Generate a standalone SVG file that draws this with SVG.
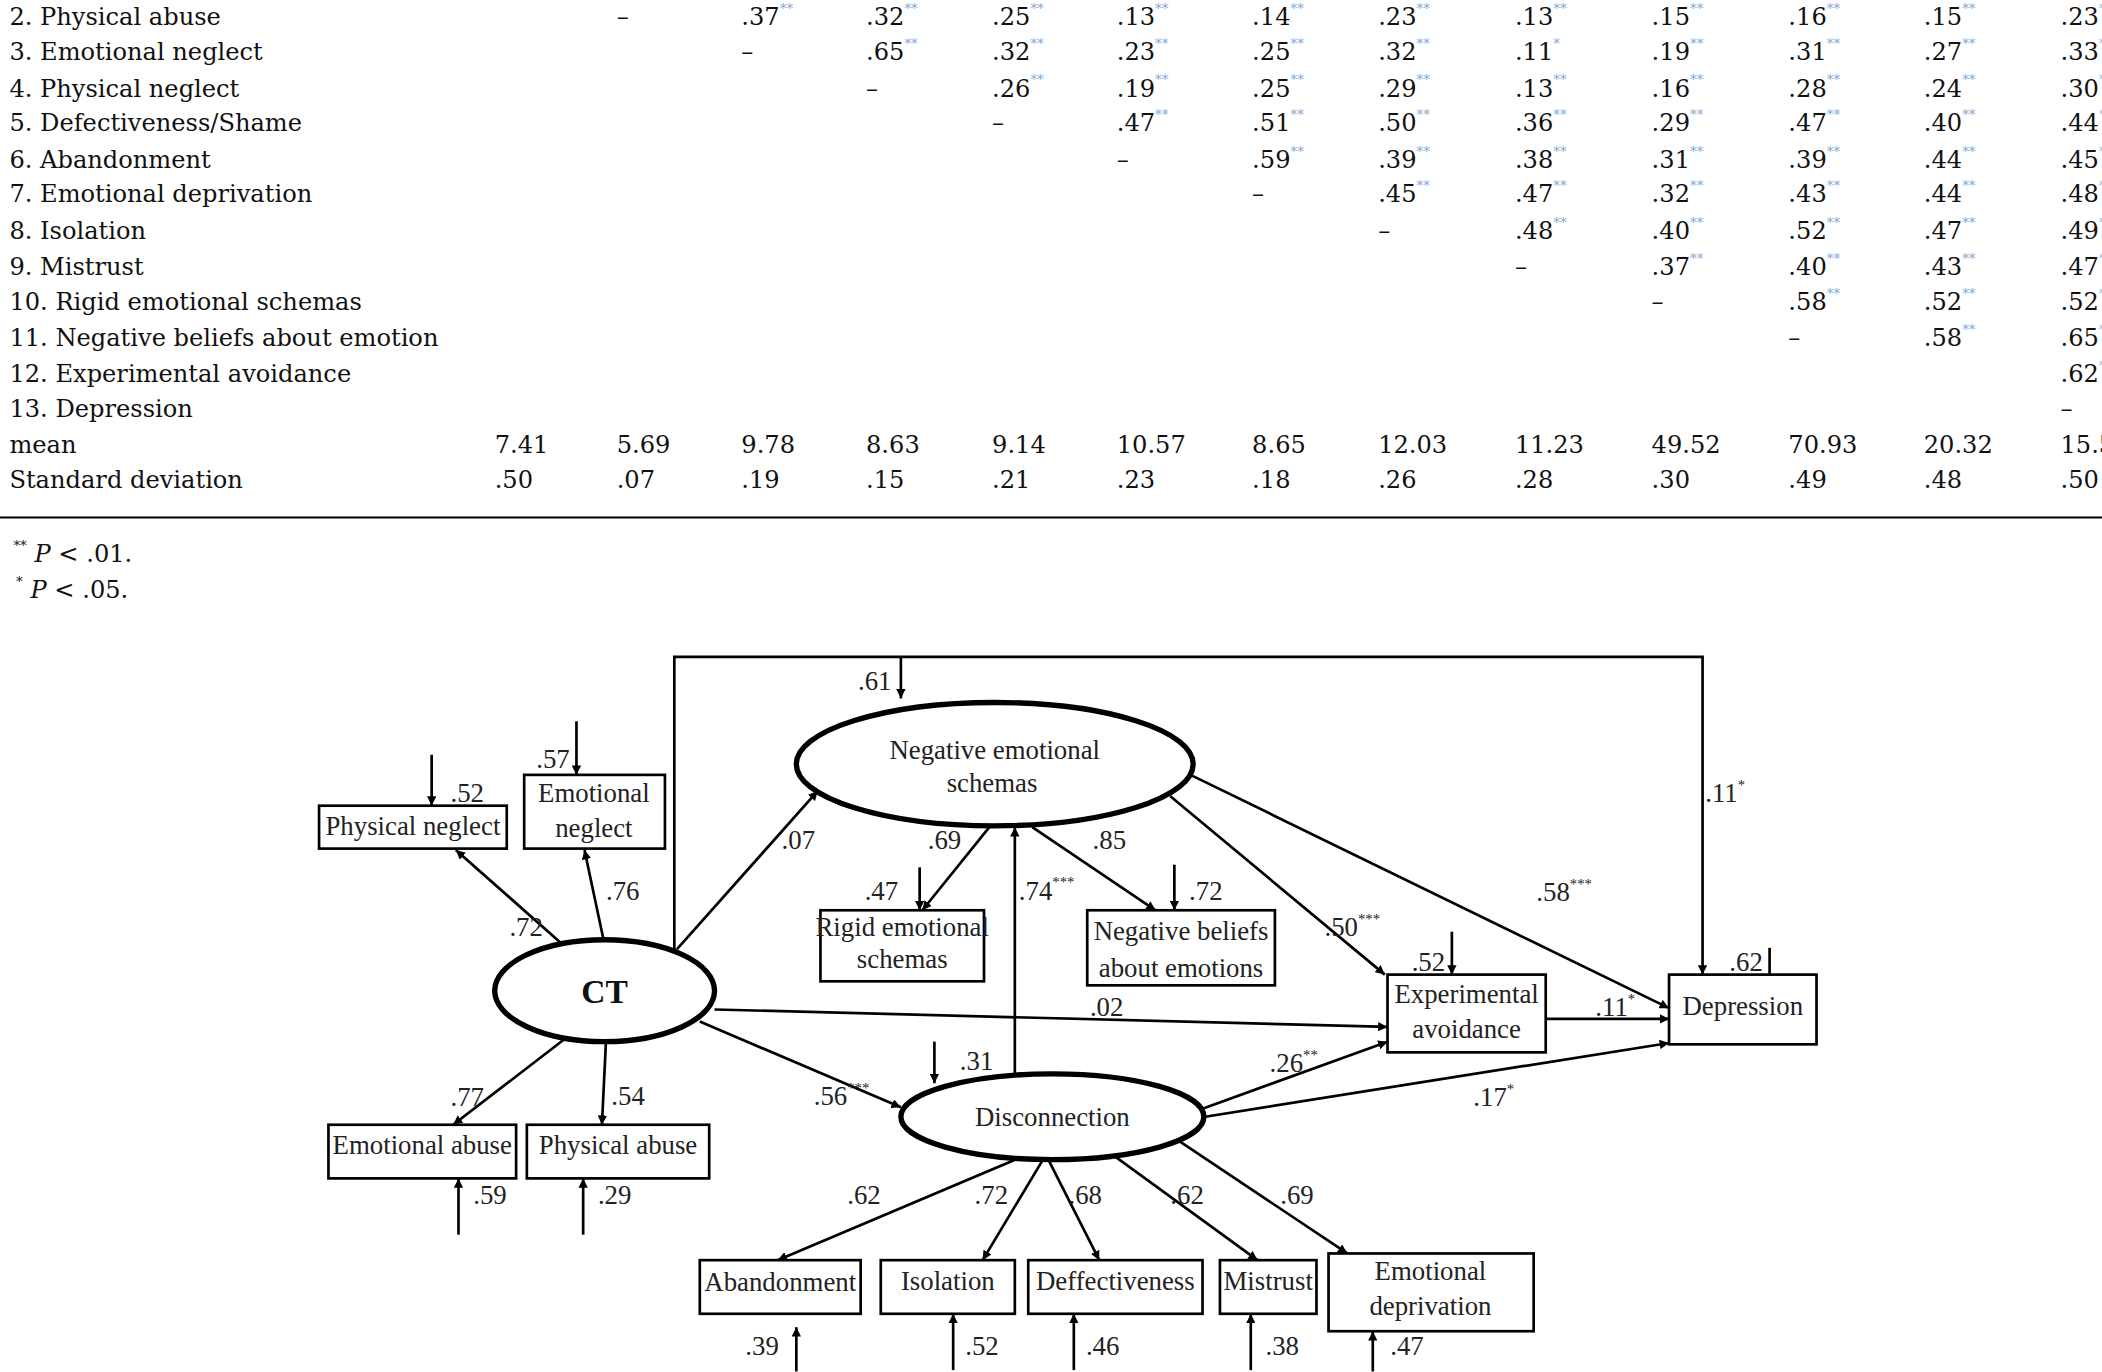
<svg xmlns="http://www.w3.org/2000/svg" width="2102" height="1372" viewBox="0 0 2102 1372">
<defs>
<marker id="ah" viewBox="0 0 10 10" refX="10" refY="5" markerWidth="7" markerHeight="7" markerUnits="userSpaceOnUse" orient="auto"><path d="M0,0 L10,5 L0,10 z" fill="#000"/></marker>
<style>
text{font-family:"Liberation Serif",serif;fill:#111}
.t{font-size:18px;font-family:"DejaVu Serif",serif}
.s{font-size:10px;fill:#7fa8d6}
.d{font-size:20px;fill:#222}
.ds{font-size:11px;fill:#222}
.n{fill:#fff;stroke:#000;stroke-width:2}
.e{fill:#fff;stroke:#000;stroke-width:4}
.c{fill:none;stroke:#000;stroke-width:2;marker-end:url(#ah)}
.m{text-anchor:middle}
</style>
</defs>
<rect width="2102" height="1372" fill="#fff"/>
<g transform="scale(1.3406)">
<g id="table">
<text x="7" y="19" class="t">2. Physical abuse</text>
<text x="7" y="45" class="t">3. Emotional neglect</text>
<text x="7" y="72" class="t">4. Physical neglect</text>
<text x="7" y="98" class="t">5. Defectiveness/Shame</text>
<text x="7" y="125" class="t">6. Abandonment</text>
<text x="7" y="151" class="t">7. Emotional deprivation</text>
<text x="7" y="178" class="t">8. Isolation</text>
<text x="7" y="205" class="t">9. Mistrust</text>
<text x="7" y="231" class="t">10. Rigid emotional schemas</text>
<text x="7" y="258" class="t">11. Negative beliefs about emotion</text>
<text x="7" y="285" class="t">12. Experimental avoidance</text>
<text x="7" y="311" class="t">13. Depression</text>
<text x="7" y="338" class="t">mean</text>
<text x="7" y="364" class="t">Standard deviation</text>
<text x="460" y="19" class="t">–</text>
<text x="553" y="19" class="t">.37<tspan class="s" dy="-9">**</tspan></text>
<text x="646" y="19" class="t">.32<tspan class="s" dy="-9">**</tspan></text>
<text x="740" y="19" class="t">.25<tspan class="s" dy="-9">**</tspan></text>
<text x="833" y="19" class="t">.13<tspan class="s" dy="-9">**</tspan></text>
<text x="934" y="19" class="t">.14<tspan class="s" dy="-9">**</tspan></text>
<text x="1028" y="19" class="t">.23<tspan class="s" dy="-9">**</tspan></text>
<text x="1130" y="19" class="t">.13<tspan class="s" dy="-9">**</tspan></text>
<text x="1232" y="19" class="t">.15<tspan class="s" dy="-9">**</tspan></text>
<text x="1334" y="19" class="t">.16<tspan class="s" dy="-9">**</tspan></text>
<text x="1435" y="19" class="t">.15<tspan class="s" dy="-9">**</tspan></text>
<text x="1537" y="19" class="t">.23<tspan class="s" dy="-9">**</tspan></text>
<text x="553" y="45" class="t">–</text>
<text x="646" y="45" class="t">.65<tspan class="s" dy="-9">**</tspan></text>
<text x="740" y="45" class="t">.32<tspan class="s" dy="-9">**</tspan></text>
<text x="833" y="45" class="t">.23<tspan class="s" dy="-9">**</tspan></text>
<text x="934" y="45" class="t">.25<tspan class="s" dy="-9">**</tspan></text>
<text x="1028" y="45" class="t">.32<tspan class="s" dy="-9">**</tspan></text>
<text x="1130" y="45" class="t">.11<tspan class="s" dy="-9">*</tspan></text>
<text x="1232" y="45" class="t">.19<tspan class="s" dy="-9">**</tspan></text>
<text x="1334" y="45" class="t">.31<tspan class="s" dy="-9">**</tspan></text>
<text x="1435" y="45" class="t">.27<tspan class="s" dy="-9">**</tspan></text>
<text x="1537" y="45" class="t">.33<tspan class="s" dy="-9">**</tspan></text>
<text x="646" y="72" class="t">–</text>
<text x="740" y="72" class="t">.26<tspan class="s" dy="-9">**</tspan></text>
<text x="833" y="72" class="t">.19<tspan class="s" dy="-9">**</tspan></text>
<text x="934" y="72" class="t">.25<tspan class="s" dy="-9">**</tspan></text>
<text x="1028" y="72" class="t">.29<tspan class="s" dy="-9">**</tspan></text>
<text x="1130" y="72" class="t">.13<tspan class="s" dy="-9">**</tspan></text>
<text x="1232" y="72" class="t">.16<tspan class="s" dy="-9">**</tspan></text>
<text x="1334" y="72" class="t">.28<tspan class="s" dy="-9">**</tspan></text>
<text x="1435" y="72" class="t">.24<tspan class="s" dy="-9">**</tspan></text>
<text x="1537" y="72" class="t">.30<tspan class="s" dy="-9">**</tspan></text>
<text x="740" y="98" class="t">–</text>
<text x="833" y="98" class="t">.47<tspan class="s" dy="-9">**</tspan></text>
<text x="934" y="98" class="t">.51<tspan class="s" dy="-9">**</tspan></text>
<text x="1028" y="98" class="t">.50<tspan class="s" dy="-9">**</tspan></text>
<text x="1130" y="98" class="t">.36<tspan class="s" dy="-9">**</tspan></text>
<text x="1232" y="98" class="t">.29<tspan class="s" dy="-9">**</tspan></text>
<text x="1334" y="98" class="t">.47<tspan class="s" dy="-9">**</tspan></text>
<text x="1435" y="98" class="t">.40<tspan class="s" dy="-9">**</tspan></text>
<text x="1537" y="98" class="t">.44<tspan class="s" dy="-9">**</tspan></text>
<text x="833" y="125" class="t">–</text>
<text x="934" y="125" class="t">.59<tspan class="s" dy="-9">**</tspan></text>
<text x="1028" y="125" class="t">.39<tspan class="s" dy="-9">**</tspan></text>
<text x="1130" y="125" class="t">.38<tspan class="s" dy="-9">**</tspan></text>
<text x="1232" y="125" class="t">.31<tspan class="s" dy="-9">**</tspan></text>
<text x="1334" y="125" class="t">.39<tspan class="s" dy="-9">**</tspan></text>
<text x="1435" y="125" class="t">.44<tspan class="s" dy="-9">**</tspan></text>
<text x="1537" y="125" class="t">.45<tspan class="s" dy="-9">**</tspan></text>
<text x="934" y="151" class="t">–</text>
<text x="1028" y="151" class="t">.45<tspan class="s" dy="-9">**</tspan></text>
<text x="1130" y="151" class="t">.47<tspan class="s" dy="-9">**</tspan></text>
<text x="1232" y="151" class="t">.32<tspan class="s" dy="-9">**</tspan></text>
<text x="1334" y="151" class="t">.43<tspan class="s" dy="-9">**</tspan></text>
<text x="1435" y="151" class="t">.44<tspan class="s" dy="-9">**</tspan></text>
<text x="1537" y="151" class="t">.48<tspan class="s" dy="-9">**</tspan></text>
<text x="1028" y="178" class="t">–</text>
<text x="1130" y="178" class="t">.48<tspan class="s" dy="-9">**</tspan></text>
<text x="1232" y="178" class="t">.40<tspan class="s" dy="-9">**</tspan></text>
<text x="1334" y="178" class="t">.52<tspan class="s" dy="-9">**</tspan></text>
<text x="1435" y="178" class="t">.47<tspan class="s" dy="-9">**</tspan></text>
<text x="1537" y="178" class="t">.49<tspan class="s" dy="-9">**</tspan></text>
<text x="1130" y="205" class="t">–</text>
<text x="1232" y="205" class="t">.37<tspan class="s" dy="-9">**</tspan></text>
<text x="1334" y="205" class="t">.40<tspan class="s" dy="-9">**</tspan></text>
<text x="1435" y="205" class="t">.43<tspan class="s" dy="-9">**</tspan></text>
<text x="1537" y="205" class="t">.47<tspan class="s" dy="-9">**</tspan></text>
<text x="1232" y="231" class="t">–</text>
<text x="1334" y="231" class="t">.58<tspan class="s" dy="-9">**</tspan></text>
<text x="1435" y="231" class="t">.52<tspan class="s" dy="-9">**</tspan></text>
<text x="1537" y="231" class="t">.52<tspan class="s" dy="-9">**</tspan></text>
<text x="1334" y="258" class="t">–</text>
<text x="1435" y="258" class="t">.58<tspan class="s" dy="-9">**</tspan></text>
<text x="1537" y="258" class="t">.65<tspan class="s" dy="-9">**</tspan></text>
<text x="1537" y="285" class="t">.62<tspan class="s" dy="-9">**</tspan></text>
<text x="1537" y="311" class="t">–</text>
<text y="338" class="t"><tspan x="369">7.41</tspan><tspan x="460">5.69</tspan><tspan x="553">9.78</tspan><tspan x="646">8.63</tspan><tspan x="740">9.14</tspan><tspan x="833">10.57</tspan><tspan x="934">8.65</tspan><tspan x="1028">12.03</tspan><tspan x="1130">11.23</tspan><tspan x="1232">49.52</tspan><tspan x="1334">70.93</tspan><tspan x="1435">20.32</tspan><tspan x="1537">15.5</tspan></text>
<text y="364" class="t"><tspan x="369">.50</tspan><tspan x="460">.07</tspan><tspan x="553">.19</tspan><tspan x="646">.15</tspan><tspan x="740">.21</tspan><tspan x="833">.23</tspan><tspan x="934">.18</tspan><tspan x="1028">.26</tspan><tspan x="1130">.28</tspan><tspan x="1232">.30</tspan><tspan x="1334">.49</tspan><tspan x="1435">.48</tspan><tspan x="1537">.50</tspan></text>
<line x1="0" y1="386" x2="1568" y2="386" stroke="#000" stroke-width="1.5"/>
<text x="10" y="419" class="t"><tspan font-size="10px" dy="-9">**</tspan><tspan dy="9" font-style="italic"> P</tspan> &lt; .01.</text>
<text x="12" y="446" class="t"><tspan font-size="10px" dy="-9">*</tspan><tspan dy="9" font-style="italic"> P</tspan> &lt; .05.</text>
</g>

<g id="connectors">
<polyline class="c" points="503,708 503,490 1270,490 1270,727"/>
<line class="c" x1="672" y1="490" x2="672" y2="521"/>
<line class="c" x1="418" y1="703" x2="340" y2="634"/>
<line class="c" x1="450" y1="700" x2="436" y2="634"/>
<line class="c" x1="420" y1="776" x2="338" y2="839"/>
<line class="c" x1="452" y1="777" x2="449" y2="839"/>
<line class="c" x1="505" y1="708" x2="610" y2="590"/>
<line class="c" x1="533" y1="753" x2="1035" y2="766"/>
<line class="c" x1="522" y1="762" x2="672" y2="826"/>
<line class="c" x1="738" y1="617" x2="688" y2="679"/>
<line class="c" x1="770" y1="617" x2="862" y2="679"/>
<line class="c" x1="757" y1="801" x2="757" y2="617"/>
<line class="c" x1="873" y1="594" x2="1033" y2="727"/>
<line class="c" x1="888" y1="578" x2="1245" y2="752"/>
<line class="c" x1="1153" y1="760" x2="1245" y2="760"/>
<line class="c" x1="897" y1="827" x2="1035" y2="777"/>
<line class="c" x1="899" y1="833" x2="1245" y2="778"/>
<line class="c" x1="762" y1="863" x2="580" y2="940"/>
<line class="c" x1="778" y1="865" x2="733" y2="940"/>
<line class="c" x1="782" y1="865" x2="820" y2="940"/>
<line class="c" x1="828" y1="860" x2="938" y2="940"/>
<line class="c" x1="866" y1="842" x2="1005" y2="935"/>
<line class="c" x1="322" y1="563" x2="322" y2="601"/>
<line class="c" x1="430" y1="538" x2="430" y2="578"/>
<line class="c" x1="686" y1="647" x2="686" y2="679"/>
<line class="c" x1="876" y1="645" x2="876" y2="679"/>
<line class="c" x1="1083" y1="695" x2="1083" y2="727"/>
<line class="c" x1="1320" y1="707" x2="1320" y2="735"/>
<line class="c" x1="697" y1="777" x2="697" y2="808"/>
<line class="c" x1="342" y1="921" x2="342" y2="879"/>
<line class="c" x1="435" y1="921" x2="435" y2="879"/>
<line class="c" x1="594" y1="1023" x2="594" y2="990"/>
<line class="c" x1="711" y1="1022" x2="711" y2="980"/>
<line class="c" x1="801" y1="1022" x2="801" y2="980"/>
<line class="c" x1="933" y1="1022" x2="933" y2="980"/>
<line class="c" x1="1024" y1="1023" x2="1024" y2="993"/>
<text class="d" x="1272" y="598">.11<tspan class="ds" dy="-9">*</tspan></text>
<text class="d" x="640" y="515">.61</text>
<text class="d" x="380" y="698">.72</text>
<text class="d" x="452" y="671">.76</text>
<text class="d" x="336" y="825">.77</text>
<text class="d" x="456" y="824">.54</text>
<text class="d" x="583" y="633">.07</text>
<text class="d" x="813" y="758">.02</text>
<text class="d" x="607" y="824">.56<tspan class="ds" dy="-9">***</tspan></text>
<text class="d" x="692" y="633">.69</text>
<text class="d" x="815" y="633">.85</text>
<text class="d" x="760" y="671">.74<tspan class="ds" dy="-9">***</tspan></text>
<text class="d" x="988" y="698">.50<tspan class="ds" dy="-9">***</tspan></text>
<text class="d" x="1146" y="672">.58<tspan class="ds" dy="-9">***</tspan></text>
<text class="d" x="1190" y="758">.11<tspan class="ds" dy="-9">*</tspan></text>
<text class="d" x="947" y="800">.26<tspan class="ds" dy="-9">**</tspan></text>
<text class="d" x="1099" y="825">.17<tspan class="ds" dy="-9">*</tspan></text>
<text class="d" x="632" y="898">.62</text>
<text class="d" x="727" y="898">.72</text>
<text class="d" x="797" y="898">.68</text>
<text class="d" x="873" y="898">.62</text>
<text class="d" x="955" y="898">.69</text>
<text class="d" x="336" y="598">.52</text>
<text class="d" x="400" y="573">.57</text>
<text class="d" x="645" y="671">.47</text>
<text class="d" x="887" y="671">.72</text>
<text class="d" x="1053" y="724">.52</text>
<text class="d" x="1290" y="724">.62</text>
<text class="d" x="716" y="798">.31</text>
<text class="d" x="353" y="898">.59</text>
<text class="d" x="446" y="898">.29</text>
<text class="d" x="556" y="1011">.39</text>
<text class="d" x="720" y="1011">.52</text>
<text class="d" x="810" y="1011">.46</text>
<text class="d" x="944" y="1011">.38</text>
<text class="d" x="1037" y="1011">.47</text>
</g>

<g id="ct"><ellipse class="e" cx="451" cy="739" rx="82" ry="38"/><text class="m" x="451" y="748" font-size="25px" font-weight="bold">CT</text></g>
<g id="nes"><ellipse class="e" cx="742" cy="570" rx="148" ry="46"/><text class="m d" x="742" y="566">Negative emotional</text><text class="m d" x="740" y="591">schemas</text></g>
<g id="disc"><ellipse class="e" cx="785" cy="833" rx="113" ry="32"/><text class="m d" x="785" y="840">Disconnection</text></g>
<g id="pn"><rect class="n" x="238" y="601" width="140" height="32"/><text class="m d" x="308" y="623">Physical neglect</text></g>
<g id="en"><rect class="n" x="391" y="578" width="105" height="55"/><text class="m d" x="443" y="598">Emotional</text><text class="m d" x="443" y="624">neglect</text></g>
<g id="ea"><rect class="n" x="245" y="839" width="140" height="40"/><text class="m d" x="315" y="861">Emotional abuse</text></g>
<g id="pa"><rect class="n" x="393" y="839" width="136" height="40"/><text class="m d" x="461" y="861">Physical abuse</text></g>
<g id="res"><rect class="n" x="612" y="679" width="122" height="53"/><text class="m d" x="673" y="698" font-size="17px">Rigid emotional</text><text class="m d" x="673" y="722" font-size="17px">schemas</text></g>
<g id="nbe"><rect class="n" x="811" y="679" width="140" height="56"/><text class="m d" x="881" y="701">Negative beliefs</text><text class="m d" x="881" y="729">about emotions</text></g>
<g id="exp"><rect class="n" x="1035" y="727" width="118" height="58"/><text class="m d" x="1094" y="748">Experimental</text><text class="m d" x="1094" y="774">avoidance</text></g>
<g id="dep"><rect class="n" x="1245" y="727" width="110" height="52"/><text class="m d" x="1300" y="757">Depression</text></g>
<g id="ab"><rect class="n" x="522" y="940" width="120" height="40"/><text class="m d" x="582" y="963">Abandonment</text></g>
<g id="iso"><rect class="n" x="657" y="940" width="100" height="40"/><text class="m d" x="707" y="962">Isolation</text></g>
<g id="def"><rect class="n" x="767" y="940" width="130" height="40"/><text class="m d" x="832" y="962">Deffectiveness</text></g>
<g id="mis"><rect class="n" x="910" y="940" width="72" height="40"/><text class="m d" x="946" y="962">Mistrust</text></g>
<g id="edep"><rect class="n" x="991" y="935" width="153" height="58"/><text class="m d" x="1067" y="955">Emotional</text><text class="m d" x="1067" y="981">deprivation</text></g>
</g>
</svg>
